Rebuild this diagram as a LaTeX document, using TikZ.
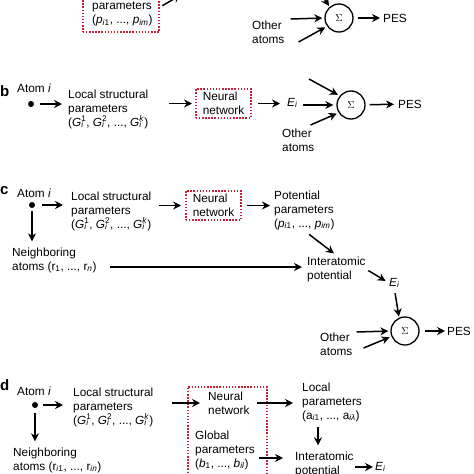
\documentclass[tikz,border=0pt]{standalone}
\usepackage{fontspec}
\setmainfont{Liberation Sans}
\usetikzlibrary{arrows.meta, calc, positioning}
\definecolor{netRed}{RGB}{200,30,55}
\tikzset{
  textNode/.style = {align=left, anchor=west, inner xsep=0pt, inner ysep=1pt},
  redBox/.style = {draw=netRed, line width=1.7pt, dash pattern=on 1.5pt off 1.6pt,
    inner xsep=7pt, inner ysep=3pt, align=left},
  sumNode/.style = {draw, circle, line width=1.3pt, minimum size=28pt, inner sep=0pt,
    font=\fontsize{10}{10}\selectfont},
  atomDot/.style = {circle, fill, inner sep=0pt, minimum size=6pt},
  arr/.style = {-{Stealth[length=8pt, width=8pt]}, line width=1.5pt},
  panelLabel/.style = {font=\fontsize{15}{15}\selectfont\bfseries, anchor=west, inner sep=0pt}
}
\newcommand{\gSym}[1]{\textit{G}\makebox[0pt][l]{\textsubscript{\textit{i}}}\textsuperscript{#1}}
\newcommand{\gPar}{(\gSym{1}, \gSym{2}, ..., \gSym{\textit{k}})}
\newcommand{\pPar}{(\textit{p}\textsubscript{\textit{i}1}, ..., \textit{p}\textsubscript{\textit{im}})}
\newcommand{\eSym}{\textit{E}\textsubscript{\textit{i}}}

\begin{document}
\begin{tikzpicture}[x=1pt, y=-1pt, font=\fontsize{11.8}{14}\selectfont]
  \useasboundingbox (0,0) rectangle (474,474);
  \clip (0,0) rectangle (474,474);

  % panel a, cut off at the top
  \node[redBox, minimum width=76pt, minimum height=50pt, anchor=south west] (boxA) at (82,33) {};
  \node[textNode] (parA) at (92,14) {parameters\\\pPar};
  \node[sumNode] (sumA) at (339,18) {$\Sigma$};
  \node[textNode] (otherA) at (252,32) {Other\\atoms};
  \node[textNode] (pesA) at (383,18) {PES};
  \coordinate (topA) at (317,-12);

  \draw[arr, shorten <=3pt] (boxA.east) -- ++(21,-12);
  \draw[arr, shorten >=1pt] (topA) -- (sumA.130);
  \draw[arr, shorten >=2pt] ($(otherA.east)+(6,-13)$) -- (sumA.180);
  \draw[arr, shorten >=2pt] ($(otherA.east)+(14,10)$) -- (sumA.215);
  \draw[arr, shorten <=4pt, shorten >=3pt] (sumA) -- (pesA);

  % panel b
  \node[panelLabel] (labB) at (0,91) {b};
  \node[textNode] (atomB) at (17,88) {Atom \textit{i}};
  \node[atomDot] (dotB) at (31,104) {};
  \node[textNode] (lspB) at (68,109) {Local structural\\parameters\\\gPar};
  \node[redBox, anchor=west] (netB) at (195,103.5) {Neural\\network};
  \node[textNode] (enB) at (287,103) {\eSym};
  \node[sumNode] (sumB) at (351,105) {$\Sigma$};
  \node[textNode] (otherB) at (282,140) {Other\\atoms};
  \node[textNode] (pesB) at (398,104) {PES};
  \coordinate (topB) at (309,79);

  \draw[arr, shorten <=6pt, shorten >=6pt] (dotB) -- (dotB -| lspB.west);
  \draw[arr, shorten <=21pt, shorten >=3pt] (lspB.east |- netB) -- (netB.west);
  \draw[arr, shorten <=6pt, shorten >=7pt] (netB.east) -- (netB.east -| enB.west);
  \draw[arr, shorten <=5pt, shorten >=3pt] (enB.east |- sumB) -- (sumB.west);
  \draw[arr, shorten >=2pt] (topB) -- (sumB.141);
  \draw[arr, shorten >=2pt] ($(otherB.east)+(-4,-15)$) -- (sumB.212);
  \draw[arr, shorten <=4pt, shorten >=4pt] (sumB) -- (pesB);

  % panel c
  \node[panelLabel] (labC) at (0,191) {c};
  \node[textNode] (atomC) at (17,193) {Atom \textit{i}};
  \node[atomDot] (dotC) at (32,205) {};
  \node[textNode] (lspC) at (71,211) {Local structural\\parameters\\\gPar};
  \node[textNode] (neighC) at (12,260) {Neighboring\\atoms (r\textsubscript{1}, ..., r\textsubscript{\textit{n}})};
  \node[redBox, anchor=west] (netC) at (185,205.5) {Neural\\network};
  \node[textNode] (potC) at (274,210) {Potential\\parameters\\\pPar};
  \node[textNode] (interC) at (307,269) {Interatomic\\potential};
  \node[textNode] (enC) at (389,283) {\eSym};
  \node[sumNode] (sumC) at (405,331) {$\Sigma$};
  \node[textNode] (otherC) at (320,344) {Other\\atoms};
  \node[textNode] (pesC) at (447,331) {PES};
  \coordinate (neighOutC) at ([yshift=-7pt]neighC.east);

  \draw[arr, shorten <=7pt, shorten >=8pt] (dotC) -- (dotC -| lspC.west);
  \draw[arr, shorten <=3pt, shorten >=5pt] (dotC) -- (dotC |- neighC.north);
  \draw[arr, shorten <=8pt, shorten >=4pt] (lspC.east |- netC) -- (netC.west);
  \draw[arr, shorten <=5pt, shorten >=4pt] (netC.east) -- (netC.east -| potC.west);
  \draw[arr, shorten <=13pt, shorten >=5pt] (neighOutC) -- (neighOutC -| interC.west);
  \draw[arr, shorten <=6pt, shorten >=3pt] (potC.south) -- (interC.north);
  \draw[arr, shorten <=3pt, shorten >=4pt] (interC.east) -- (enC.west);
  \draw[arr, shorten <=4pt, shorten >=1pt] (enC.south) -- (sumC.114);
  \draw[arr, shorten >=2pt] ($(otherC.east)+(4,-12)$) -- (sumC.180);
  \draw[arr, shorten >=2pt] ($(otherC.east)+(11,4)$) -- (sumC.202);
  \draw[arr, shorten <=5pt, shorten >=2pt] (sumC) -- (pesC);

  % panel d, cut off at the bottom
  \node[panelLabel] (labD) at (0,385) {d};
  \node[textNode] (atomD) at (17,391) {Atom \textit{i}};
  \node[atomDot] (dotD) at (35,405) {};
  \node[textNode] (lspD) at (73,407) {Local structural\\parameters\\\gPar};
  \node[textNode] (neighD) at (13,460) {Neighboring\\atoms (r\textsubscript{\textit{i}1}, ..., r\textsubscript{\textit{in}})};
  \node[redBox, minimum width=79pt, minimum height=120pt, anchor=north west] (boxD) at (187,386) {};
  \node[textNode] (netD) at (208,403) {Neural\\network};
  \node[textNode] (globD) at (195,450) {Global\\parameters\\(\textit{b}\textsubscript{1}, ..., \textit{b}\textsubscript{\textit{il}})};
  \node[textNode] (locD) at (302,402) {Local\\parameters\\(a\textsubscript{\textit{i}1}, ..., a\textsubscript{\textit{iλ}})};
  \node[textNode] (interD) at (295,464) {Interatomic\\potential};
  \node[textNode] (enD) at (375,467) {\eSym};
  \coordinate (locOutD) at ([xshift=-14pt]locD.south);
  \coordinate (globOutD) at ([yshift=-8pt]globD.east);

  \draw[arr, shorten <=5pt, shorten >=10pt] (dotD) -- (dotD -| lspD.west);
  \draw[arr, shorten <=5pt, shorten >=5pt] (dotD) -- (dotD |- neighD.north);
  \draw[arr, shorten <=19pt, shorten >=8pt] (lspD.east |- netD) -- (netD.west);
  \draw[arr, shorten <=7pt, shorten >=9pt] (netD.east) -- (netD.east -| locD.west);
  \draw[arr, shorten <=4pt, shorten >=5pt] (locOutD) -- (locOutD |- interD.north);
  \draw[arr, shorten <=4pt, shorten >=12pt] (globOutD) -- (globOutD -| interD.west);
  \draw[arr, shorten <=1pt, shorten >=2pt] (interD.east |- enD) -- (enD.west);
\end{tikzpicture}
\end{document}
